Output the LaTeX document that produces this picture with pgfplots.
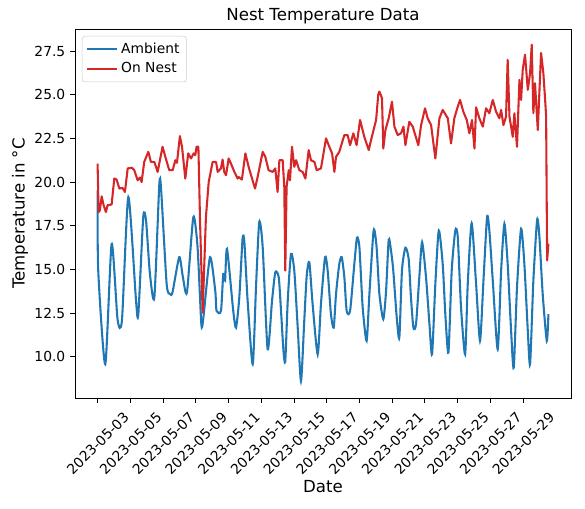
\documentclass[border=0pt]{standalone}
\usepackage{fontspec}
\setmainfont{DejaVu Sans}
\usepackage{pgfplots}
\pgfplotsset{compat=1.18}
\definecolor{tabblue}{HTML}{1F77B4}
\definecolor{tabred}{HTML}{D62728}
\begin{document}
\begin{tikzpicture}
\begin{axis}[
    scale only axis,
    width=357.12bp, height=265.68bp,
    xmin=-1.38, xmax=28.93,
    ymin=7.64, ymax=28.76,
    xtick={0,2,...,26},
    xticklabels={2023-05-03,2023-05-05,2023-05-07,2023-05-09,2023-05-11,2023-05-13,2023-05-15,2023-05-17,2023-05-19,2023-05-21,2023-05-23,2023-05-25,2023-05-27,2023-05-29},
    ytick={10,12.5,...,27.5},
    tick pos=left, tick align=outside, major tick length=3.5pt,
    tick style={black, line width=0.6pt},
    axis line style={line width=0.6pt},
    /pgf/number format/assume math mode=true,
    yticklabel style={/pgf/number format/.cd, fixed, fixed zerofill, precision=1},
    ticklabel style={font=\fontsize{10}{12}\selectfont},
    xticklabel style={xshift=18bp, yshift=-3bp, rotate=45, anchor=north east, inner sep=2pt},
    xlabel={Date},
    ylabel={Temperature in °C},
    label style={font=\fontsize{12}{14}\selectfont},
    xlabel style={at={(axis description cs:0.5,-0.241)}, anchor=center},
    ylabel style={at={(axis description cs:-0.111,0.5)}, anchor=center},
    legend style={at={(axis description cs:0,1)}, anchor=north west, xshift=5pt, yshift=-5pt,
        draw=black!20, rounded corners=2pt, font=\fontsize{10}{12}\selectfont,
        row sep=1pt, inner sep=3pt},
    legend cell align=left,
    legend image code/.code={\draw[#1] (0pt,0pt) -- (21.6bp,0pt);},
]
\addplot[tabblue, line width=1.5pt, smooth, tension=0.4] coordinates {
(0,19.53) (0.04,14.93) (0.47,9.57) (0.86,16.47) (1.22,12.15) (1.49,12.1) (1.88,19.14)
(2.35,13.2) (2.49,12.44) (2.79,17.99) (2.96,17.8) (3.2,14.74) (3.47,13.4) (3.77,19.82)
(3.88,19.6) (4.22,14.17) (4.43,13.59) (4.58,13.7) (4.99,15.7) (5.2,14.64) (5.46,13.68)
(5.85,17.99) (6.11,16.27) (6.34,11.87) (6.46,12.2) (6.87,15.7) (7.19,13.78) (7.27,12.63)
(7.54,12.63) (7.68,14.74) (7.79,14.36) (7.91,16.18) (8.29,12.63) (8.46,11.67) (8.66,13.4)
(8.86,16.75) (8.97,16.56) (9.17,13.2) (9.48,9.57) (9.68,13.97) (9.88,17.71) (10.09,16.27)
(10.39,10.43) (10.66,13.2) (10.86,14.83) (11.07,14.55) (11.21,12.63) (11.36,10.33)
(11.47,9.76) (11.62,13.2) (11.82,15.89) (12.02,14.93) (12.23,11.67) (12.43,8.61)
(12.63,12.06) (12.78,14.64) (12.94,15.41) (13.14,13.02) (13.45,10.14) (13.65,13.02)
(13.9,15.7) (14.06,14.93) (14.26,12.44) (14.43,11.67) (14.57,13.59) (14.77,15.31)
(14.92,15.7) (15.08,14.55) (15.22,12.63) (15.43,12.63) (15.69,15.31) (15.85,16.81)
(16.0,16.27) (16.2,12.82) (16.44,10.91) (16.61,13.59) (16.87,17.23) (17.05,16.27)
(17.22,13.6) (17.46,12.15) (17.63,13.78) (17.79,16.7) (17.93,16.08) (18.07,14.93)
(18.28,12.25) (18.44,11.1) (18.6,14.93) (18.81,16.24) (19.01,15.6) (19.15,13.4)
(19.3,11.67) (19.46,11.87) (19.66,14.55) (19.83,16.56) (20.07,14.55) (20.28,11.87)
(20.44,10.14) (20.64,14.17) (20.85,17.23) (21.09,15.31) (21.25,12.44) (21.44,10.24)
(21.64,14.93) (21.86,17.23) (22.01,16.85) (22.21,12.82) (22.46,10.14) (22.62,14.17)
(22.86,17.65) (23.13,14.17) (23.37,10.91) (23.58,14.36) (23.8,17.99) (23.94,17.23)
(24.15,14.36) (24.45,10.43) (24.66,14.93) (24.86,17.61) (25.06,15.31) (25.27,11.48)
(25.43,9.37) (25.63,13.97) (25.88,17.33) (26.08,15.31) (26.29,11.48) (26.43,9.57)
(26.63,14.36) (26.86,17.84) (27.0,16.85) (27.2,13.59) (27.45,10.91) (27.55,12.44)
};
\addlegendentry{Ambient}
\addplot[tabred, line width=1.5pt, line join=round] coordinates {
(0,21.06) (0.06,18.28) (0.14,18.38) (0.25,19.18) (0.37,18.67) (0.51,18.28) (0.61,18.67)
(0.86,18.72) (1.02,20.2) (1.16,20.15) (1.33,19.63) (1.53,19.66) (1.67,19.43) (1.84,20.78)
(2.1,20.82) (2.24,20.68) (2.45,20.1) (2.59,20.26) (2.69,20.0) (2.85,21.15) (3.1,21.73)
(3.26,21.15) (3.47,21.15) (3.67,20.58) (3.97,22.02) (4.14,21.44) (4.38,20.68) (4.59,20.68)
(4.75,21.25) (4.85,21.1) (5.03,22.63) (5.16,22.02) (5.36,20.2) (5.54,21.64) (5.71,21.35)
(5.87,21.64) (5.97,21.54) (6.05,22.02) (6.16,22.02) (6.26,17.8) (6.42,12.53) (6.62,17.99)
(6.79,20.0) (7.03,21.15) (7.24,21.15) (7.34,20.58) (7.54,20.78) (7.64,21.29) (7.74,20.58)
(7.85,20.39) (8.01,21.35) (8.15,21.06) (8.36,20.58) (8.56,20.2) (8.62,20.29) (8.82,20.14)
(9.03,21.64) (9.23,20.87) (9.44,20.2) (9.62,19.63) (9.78,20.29) (10.09,21.73) (10.25,21.44)
(10.45,20.68) (10.7,20.58) (10.86,20.78) (11.0,19.43) (11.11,21.25) (11.31,21.25)
(11.41,19.72) (11.47,14.93) (11.55,19.72) (11.68,20.68) (11.76,20.1) (11.88,22.02)
(12.02,20.87) (12.13,21.25) (12.33,20.68) (12.53,20.58) (12.7,20.2) (12.9,21.83)
(13.04,21.25) (13.25,21.15) (13.39,20.68) (13.65,20.78) (13.96,22.5) (14.16,22.02)
(14.33,21.64) (14.47,20.58) (14.57,21.44) (14.77,21.73) (15.08,22.69) (15.28,22.69)
(15.43,22.11) (15.63,22.79) (15.83,22.11) (16.04,23.55) (16.3,22.59) (16.57,21.83)
(16.71,22.4) (17.02,23.55) (17.15,25.0) (17.22,25.18) (17.38,24.8) (17.46,21.92)
(17.59,22.98) (17.79,23.65) (17.99,24.6) (18.14,23.17) (18.34,22.69) (18.54,22.79)
(18.69,23.17) (18.81,22.11) (19.05,23.45) (19.26,23.17) (19.6,22.11) (19.77,23.26)
(20.01,24.22) (20.17,23.65) (20.38,23.26) (20.64,21.35) (20.89,23.65) (21.09,24.13)
(21.4,23.65) (21.6,22.21) (21.8,23.65) (22.01,24.32) (22.15,24.7) (22.35,24.03)
(22.56,23.55) (22.72,22.79) (22.88,23.55) (23.03,21.92) (23.13,24.28) (23.33,23.65)
(23.54,23.17) (23.74,24.22) (23.94,23.94) (24.15,24.7) (24.35,24.03) (24.55,23.65)
(24.66,24.13) (24.8,23.26) (24.96,23.74) (25.06,27.0) (25.17,23.74) (25.37,22.59)
(25.47,23.94) (25.63,22.02) (25.78,25.85) (25.88,24.7) (25.98,26.43) (26.12,27.29)
(26.29,25.28) (26.43,26.24) (26.53,27.86) (26.63,23.94) (26.73,25.66) (26.9,22.98)
(27.1,27.39) (27.24,26.24) (27.35,24.7) (27.41,23.74) (27.47,15.51) (27.55,16.47)
};
\addlegendentry{On Nest}
\end{axis}
\node[font=\fontsize{12}{14}\selectfont, anchor=base] at (178.56bp,271.48bp) {Nest Temperature Data};
\pgfresetboundingbox
\path (-54bp,-79.92bp) rectangle (367.2bp,286.56bp);
\end{tikzpicture}
\end{document}
